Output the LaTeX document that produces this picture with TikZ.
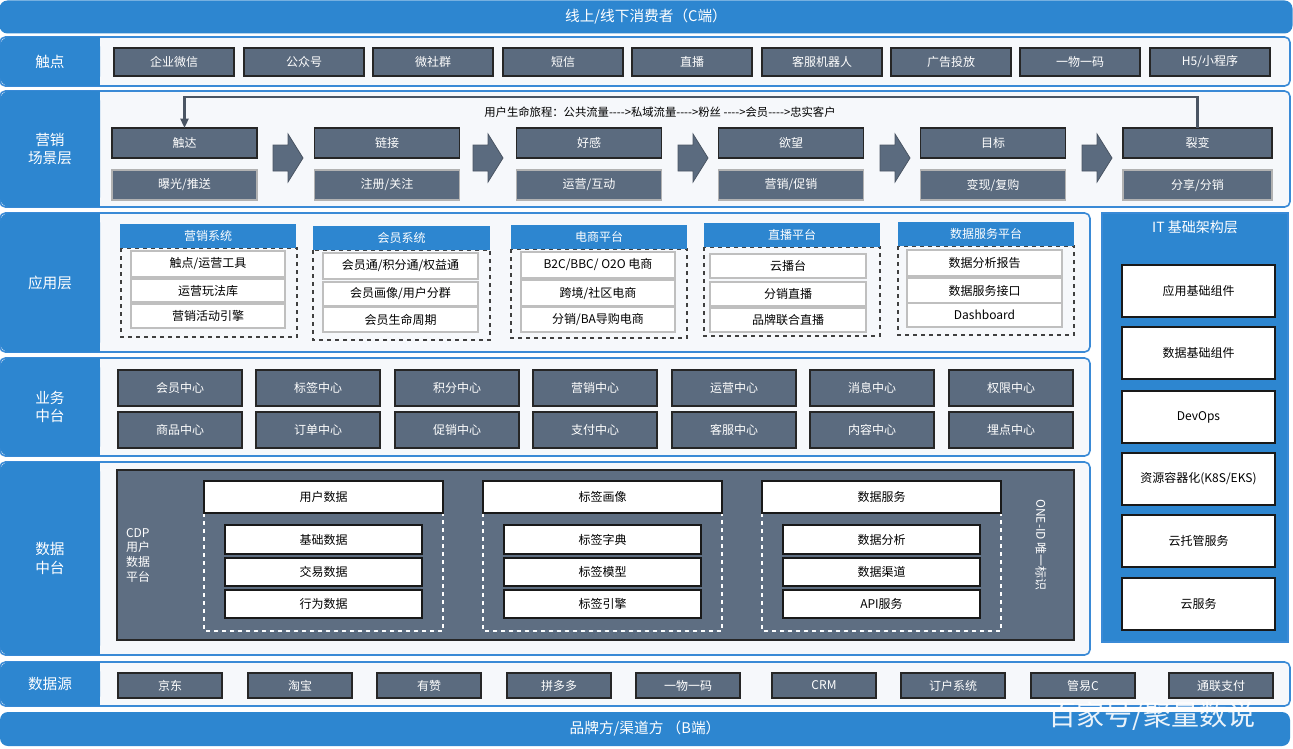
\documentclass[tikz,border=0pt]{standalone}
\usepackage{fontspec}
\setmainfont{Noto Sans CJK SC}
\usetikzlibrary{arrows.meta}
\definecolor{mblue}{RGB}{45,134,208}
\definecolor{slate}{RGB}{91,107,127}
\definecolor{panelbg}{RGB}{246,248,251}
\definecolor{pborder}{RGB}{58,138,214}
\definecolor{cdpbg}{RGB}{94,110,130}
\definecolor{arrowc}{RGB}{74,85,99}
\newcommand\cb[7]{\node[#6, minimum width=#4*0.75pt, minimum height=#5*0.75pt] (#1) at (#2,#3) {#7};}
\newcommand\lblock[4]{% name, y1, y2, text
  \fill[mblue] (88,#2) rectangle (100,#3);
  \node[lbl, minimum width=100*0.75pt, minimum height={(#3-#2)*0.75pt}] (#1) at (50,{(#2+#3)/2}) {#4};}
\begin{document}
\begin{tikzpicture}[x=0.75pt,y=-0.75pt,
  every node/.style={inner sep=0pt, outer sep=0pt},
  band/.style={draw=pborder, fill=panelbg, line width=1.2pt, rounded corners=4pt},
  banner/.style={fill=mblue, rounded corners=6pt, text=white, font=\fontsize{11}{13}\selectfont},
  lbl/.style={fill=mblue, rounded corners=7pt, text=white, align=center, font=\fontsize{11}{14}\selectfont},
  dk/.style={fill=slate, draw=black!85, line width=1pt, text=white, font=\fontsize{9}{11}\selectfont},
  dkl/.style={fill=slate, draw=black!30, line width=1pt, text=white, font=\fontsize{9}{11}\selectfont},
  hdr/.style={fill=mblue, text=white, font=\fontsize{9}{11}\selectfont},
  wt/.style={fill=white, draw=black!25, line width=0.9pt, text=black, font=\fontsize{9}{11}\selectfont},
  wtb/.style={fill=white, draw=black!90, line width=1pt, text=black, font=\fontsize{9}{11}\selectfont},
  dbox/.style={draw=black!75, dashed, line width=0.9pt},
  wdbox/.style={draw=white, dashed, line width=0.9pt},
  bigarrow/.style={fill=slate, draw=arrowc, line width=0.6pt}
]
\useasboundingbox (0,0) rectangle (1293,749);
\fill[white] (0,0) rectangle (1293,749);

% top and bottom banners
\cb{cend}{646}{17}{1293}{33}{banner}{线上/线下消费者（C端）}
\cb{bend}{645}{729}{1290}{34}{banner}{品牌方/渠道方 （B端）}

% ---------- touch points ----------
\cb{bandtp}{645}{61.5}{1290}{49}{band}{}
\lblock{ltp}{37}{86}{触点}
\foreach \n/\cx/\t in {1/174/企业微信,2/304/公众号,3/433/微社群,4/563/短信,5/692/直播,6/822/客服机器人,7/951/广告投放,8/1080/一物一码,9/1210/{H5/小程序}}
  \cb{tp\n}{\cx}{62}{120}{28}{dk}{\t};

% ---------- marketing scene ----------
\cb{bandmk}{645}{149}{1290}{116}{band}{}
\lblock{lmk}{91}{207}{营销\\场景层}
\node[font=\fontsize{8.5}{10}\selectfont, text=black] (journey) at (660,112) {用户生命旅程：公共流量-{}-{}-{}->私域流量-{}-{}-{}->粉丝 -{}-{}-{}->会员-{}-{}-{}->忠实客户};
\foreach \n/\cx/\a/\b in {1/184.5/触达/{曝光/推送},2/387/链接/{注册/关注},3/589/好感/{运营/互动},4/791/欲望/{营销/促销},5/993/目标/{变现/复购}}{
  \cb{mt\n}{\cx}{143}{145}{30}{dk}{\a}
  \cb{mb\n}{\cx}{185}{145}{30}{dkl}{\b}
}
\cb{mt6}{1197.5}{143}{149}{30}{dk}{裂变}
\cb{mb6}{1197.5}{185}{149}{30}{dkl}{分享/分销}
\foreach \cx in {288,488,693,895,1097}
  \draw[bigarrow] (\cx-15,145) -- (\cx,145) -- (\cx,134) -- (\cx+15,158) -- (\cx,182) -- (\cx,171) -- (\cx-15,171) -- cycle;
\draw[arrowc, line width=1.6pt, -{Triangle[length=7pt,width=6pt]}] (mt6.north) -- (1197.5,97) -| (mt1.north);

% ---------- application layer ----------
\cb{bandap}{545}{282.5}{1090}{139}{band}{}
\lblock{lap}{213}{352}{应用层}
% 营销系统
\draw[dbox] (121,248) rectangle (297,337);
\cb{ah1}{208}{236}{176}{24}{hdr}{营销系统}
\cb{a11}{208}{264}{154}{26}{wt}{触点/运营工具}
\cb{a12}{208}{290.5}{154}{23}{wt}{运营玩法库}
\cb{a13}{208}{316}{154}{24}{wt}{营销活动引擎}
% 会员系统
\draw[dbox] (313,250) rectangle (490,340);
\cb{ah2}{401.5}{238}{177}{24}{hdr}{会员系统}
\cb{a21}{400.5}{266}{155}{26}{wt}{会员通/积分通/权益通}
\cb{a22}{400.5}{294}{155}{24}{wt}{会员画像/用户分群}
\cb{a23}{400.5}{319.5}{155}{25}{wt}{会员生命周期}
% 电商平台
\draw[dbox] (511,249) rectangle (687,338);
\cb{ah3}{599}{237}{176}{24}{hdr}{电商平台}
\cb{a31}{598}{265}{154}{26}{wt}{B2C/BBC/ O2O 电商}
\cb{a32}{598}{293}{154}{26}{wt}{跨境/社区电商}
\cb{a33}{598}{319.5}{154}{25}{wt}{分销/BA导购电商}
% 直播平台
\draw[dbox] (704,247) rectangle (880,336);
\cb{ah4}{792}{235}{176}{24}{hdr}{直播平台}
\cb{a41}{788}{266}{156}{24}{wt}{云播台}
\cb{a42}{788}{294}{156}{24}{wt}{分销直播}
\cb{a43}{788}{320}{156}{24}{wt}{品牌联合直播}
% 数据服务平台
\draw[dbox] (898,246) rectangle (1074,335);
\cb{ah5}{986}{234}{176}{24}{hdr}{数据服务平台}
\cb{a51}{984.5}{263}{155}{26}{wt}{数据分析报告}
\cb{a52}{984.5}{290.5}{155}{25}{wt}{数据服务接口}
\cb{a53}{984.5}{315}{155}{24}{wt}{Dashboard}

% ---------- IT infrastructure ----------
\cb{itcol}{1195}{427.5}{186}{429}{fill=mblue, draw=pborder, line width=1pt}{}
\node[text=white, font=\fontsize{10.5}{13}\selectfont] (ittitle) at (1195,227) {IT 基础架构层};
\foreach \n/\cy/\t in {1/291/应用基础组件,2/353/数据基础组件,3/417/DevOps,4/479/{资源容器化(K8S/EKS)},5/541/云托管服务,6/604/云服务}
  \cb{it\n}{1198.5}{\cy}{153}{52}{wtb}{\t};

% ---------- business middle platform ----------
\cb{bandbz}{545}{407}{1090}{98}{band}{}
\lblock{lbz}{358}{456}{业务\\中台}
\foreach \n/\cx/\a/\b in {1/180/会员中心/商品中心,2/318/标签中心/订单中心,3/457/积分中心/促销中心,4/595/营销中心/支付中心,5/734/运营中心/客服中心,6/872/消息中心/内容中心,7/1011/权限中心/埋点中心}{
  \cb{bt\n}{\cx}{388}{124}{36}{dk}{\a}
  \cb{bb\n}{\cx}{430}{124}{36}{dk}{\b}
}

% ---------- data middle platform ----------
\cb{banddt}{545}{558.5}{1090}{193}{band}{}
\lblock{ldt}{462}{655}{数据\\中台}
\cb{cdp}{595.5}{555}{957}{170}{fill=cdpbg, draw=black!85, line width=1pt}{}
\node[anchor=west, text=white, align=left, font=\fontsize{9}{11}\selectfont] (cdplabel) at (126,555) {CDP\\用户\\数据\\平台};
\node[rotate=-90, text=white, font=\fontsize{9}{11}\selectfont] (oneid) at (1041,545) {ONE-ID 唯一标识};
\foreach \n/\cx/\h/\a/\b/\c in {1/323.5/用户数据/基础数据/交易数据/行为数据,2/602.5/标签画像/标签字典/标签模型/标签引擎,3/881.5/数据服务/数据分析/数据渠道/API服务}{
  \draw[wdbox] (\cx-119.5,513) rectangle (\cx+119.5,631);
  \cb{dh\n}{\cx}{497}{239}{32}{wtb}{\h}
  \cb{di\n a}{\cx}{539.5}{197}{29}{wtb}{\a}
  \cb{di\n b}{\cx}{572}{197}{28}{wtb}{\b}
  \cb{di\n c}{\cx}{604}{197}{28}{wtb}{\c}
}

% ---------- data sources ----------
\cb{bandds}{645}{684}{1290}{44}{band}{}
\lblock{lds}{662}{706}{数据源}
\foreach \n/\cx/\t in {1/170/京东,2/300/淘宝,3/429/有赞,4/559/拼多多,5/688/一物一码,6/824/CRM,7/953/订户系统,8/1083/管易C,9/1221/通联支付}
  \cb{ds\n}{\cx}{685.5}{104}{25}{dk}{\t};

% watermark
\node[text=white, opacity=0.9, font=\fontsize{21}{24}\selectfont] (wm) at (1152,716) {百家号/聚量数说};
\end{tikzpicture}
\end{document}
